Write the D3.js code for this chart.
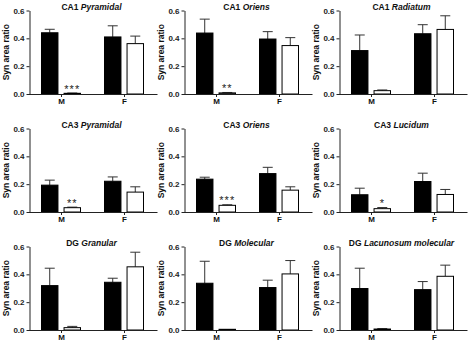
<!DOCTYPE html>
<html>
<head>
<meta charset="utf-8">
<script src="https://cdn.jsdelivr.net/npm/d3@7"></script>
<style>
  body { margin: 0; background: #fff; }
  svg { display: block; font-family: "Liberation Sans", Arial, sans-serif; }
</style>
</head>
<body>
<div id="chart"></div>
<script>
// data
var regions = ["CA1", "CA1", "CA1", "CA3", "CA3", "CA3", "DG", "DG", "DG"];
var layers = ["Pyramidal", "Oriens", "Radiatum", "Pyramidal", "Oriens", "Lucidum", "Granular", "Molecular", "Lacunosum molecular"];
var sexes = ["M", "F"];
var yTicks = [0, 0.2, 0.4, 0.6];

// [M, F] per panel
var filledMean = [[0.44, 0.41], [0.438, 0.395], [0.312, 0.433], [0.193, 0.221], [0.236, 0.276], [0.124, 0.219], [0.319, 0.343], [0.336, 0.305], [0.298, 0.29]];
var filledErr = [[0.025, 0.08], [0.10, 0.053], [0.112, 0.065], [0.036, 0.031], [0.014, 0.045], [0.047, 0.06], [0.125, 0.029], [0.158, 0.053], [0.146, 0.058]];
var openMean = [[0.005, 0.362], [0.008, 0.348], [0.024, 0.464], [0.031, 0.143], [0.048, 0.157], [0.024, 0.126], [0.017, 0.454], [0.005, 0.403], [0.007, 0.386]];
var openErr = [[0.002, 0.054], [0.003, 0.057], [0.005, 0.098], [0.004, 0.038], [0.004, 0.024], [0.008, 0.036], [0.009, 0.105], [0, 0.096], [0.003, 0.08]];
var stars = ["***", "**", "", "**", "***", "*", "", "", ""];

//general setup
var width = 474,
    height = 342,
    plotW = 128,
    plotH = 83.5;

var svg = d3.select("#chart").append("svg")
    .attr("width", width)
    .attr("height", height);

svg.append("rect").attr("width", width).attr("height", height).attr("fill", "#fff");

var yScale = d3.scaleLinear().domain([0, 0.6]).range([plotH, 0]);

var xScale = d3.scalePoint().domain(sexes).range([0, 126]).padding(0.5);

var inner = d3.scaleBand().domain(["filled", "open"]).range([-19.5, 19.5]).paddingInner(0.27);

regions.forEach(function (region, i) {
    var col = i % 3, row = Math.floor(i / 3);
    var g = svg.append("g")
        .attr("transform", "translate(" + (29.5 + col * 155) + "," + (10.5 + row * 118) + ")");

    // title
    var t = g.append("text")
        .attr("x", 62)
        .attr("y", -1)
        .attr("text-anchor", "middle")
        .attr("font-size", 8.5)
        .attr("font-weight", "bold")
        .attr("fill", "#111");
    t.append("tspan").text(region + " ");
    t.append("tspan").attr("font-style", "italic").text(layers[i]);

    // y label
    g.append("text")
        .attr("transform", "translate(-21," + (plotH / 2) + ") rotate(-90)")
        .attr("text-anchor", "middle")
        .attr("font-size", 8.5)
        .attr("font-weight", "bold")
        .attr("fill", "#111")
        .text("Syn area ratio");

    // bars
    var rows = [];
    sexes.forEach(function (s, j) {
        rows.push({ sex: s, kind: "filled", mean: filledMean[i][j], err: filledErr[i][j] });
        rows.push({ sex: s, kind: "open", mean: openMean[i][j], err: openErr[i][j] });
    });

    var cx = function (d) { return xScale(d.sex) + inner(d.kind) + inner.bandwidth() / 2; };

    // error bars (upper only)
    var eb = g.append("g").attr("stroke", "#333").attr("stroke-width", 1);
    eb.selectAll("line.v").data(rows.filter(function (d) { return d.err > 0; }))
        .join("line")
        .attr("x1", cx).attr("x2", cx)
        .attr("y1", function (d) { return yScale(d.mean); })
        .attr("y2", function (d) { return yScale(d.mean + d.err); });
    eb.selectAll("line.c").data(rows.filter(function (d) { return d.err > 0; }))
        .join("line")
        .attr("x1", function (d) { return cx(d) - 5; })
        .attr("x2", function (d) { return cx(d) + 5; })
        .attr("y1", function (d) { return yScale(d.mean + d.err); })
        .attr("y2", function (d) { return yScale(d.mean + d.err); });

    g.selectAll("rect.bar").data(rows)
        .join("rect")
        .attr("class", "bar")
        .attr("x", function (d) { return xScale(d.sex) + inner(d.kind); })
        .attr("width", inner.bandwidth())
        .attr("y", function (d) { return yScale(d.mean); })
        .attr("height", function (d) { return plotH - yScale(d.mean); })
        .attr("fill", function (d) { return d.kind == "filled" ? "#000" : "#fff"; })
        .attr("stroke", "#000")
        .attr("stroke-width", 1);

    // significance stars
    if (stars[i]) {
        g.append("text")
            .attr("x", xScale("M") + inner("open") + inner.bandwidth() / 2)
            .attr("y", yScale(openMean[i][0] + openErr[i][0]) - 0.5)
            .attr("text-anchor", "middle")
            .attr("font-size", 11)
            .attr("letter-spacing", 1)
            .attr("fill", "#222")
            .text(stars[i]);
    }

    // y axis
    var ya = g.append("g")
        .call(d3.axisLeft(yScale).tickValues(yTicks).tickFormat(d3.format(".1f")).tickSize(3).tickSizeOuter(0).tickPadding(2));
    ya.selectAll("text").attr("font-size", 8).attr("font-weight", "bold").attr("fill", "#222").attr("font-family", null);
    ya.selectAll("line, path").attr("stroke", "#222");

    // x axis
    var xa = g.append("g")
        .attr("transform", "translate(0," + plotH + ")")
        .call(d3.axisBottom(xScale).tickSize(3).tickSizeOuter(0).tickPadding(1));
    xa.select("path").attr("d", "M-1,0.5H128");
    xa.selectAll("text").attr("font-size", 8).attr("font-weight", "bold").attr("fill", "#111").attr("font-family", null);
    xa.selectAll("line, path").attr("stroke", "#222");
});
</script>
</body>
</html>
